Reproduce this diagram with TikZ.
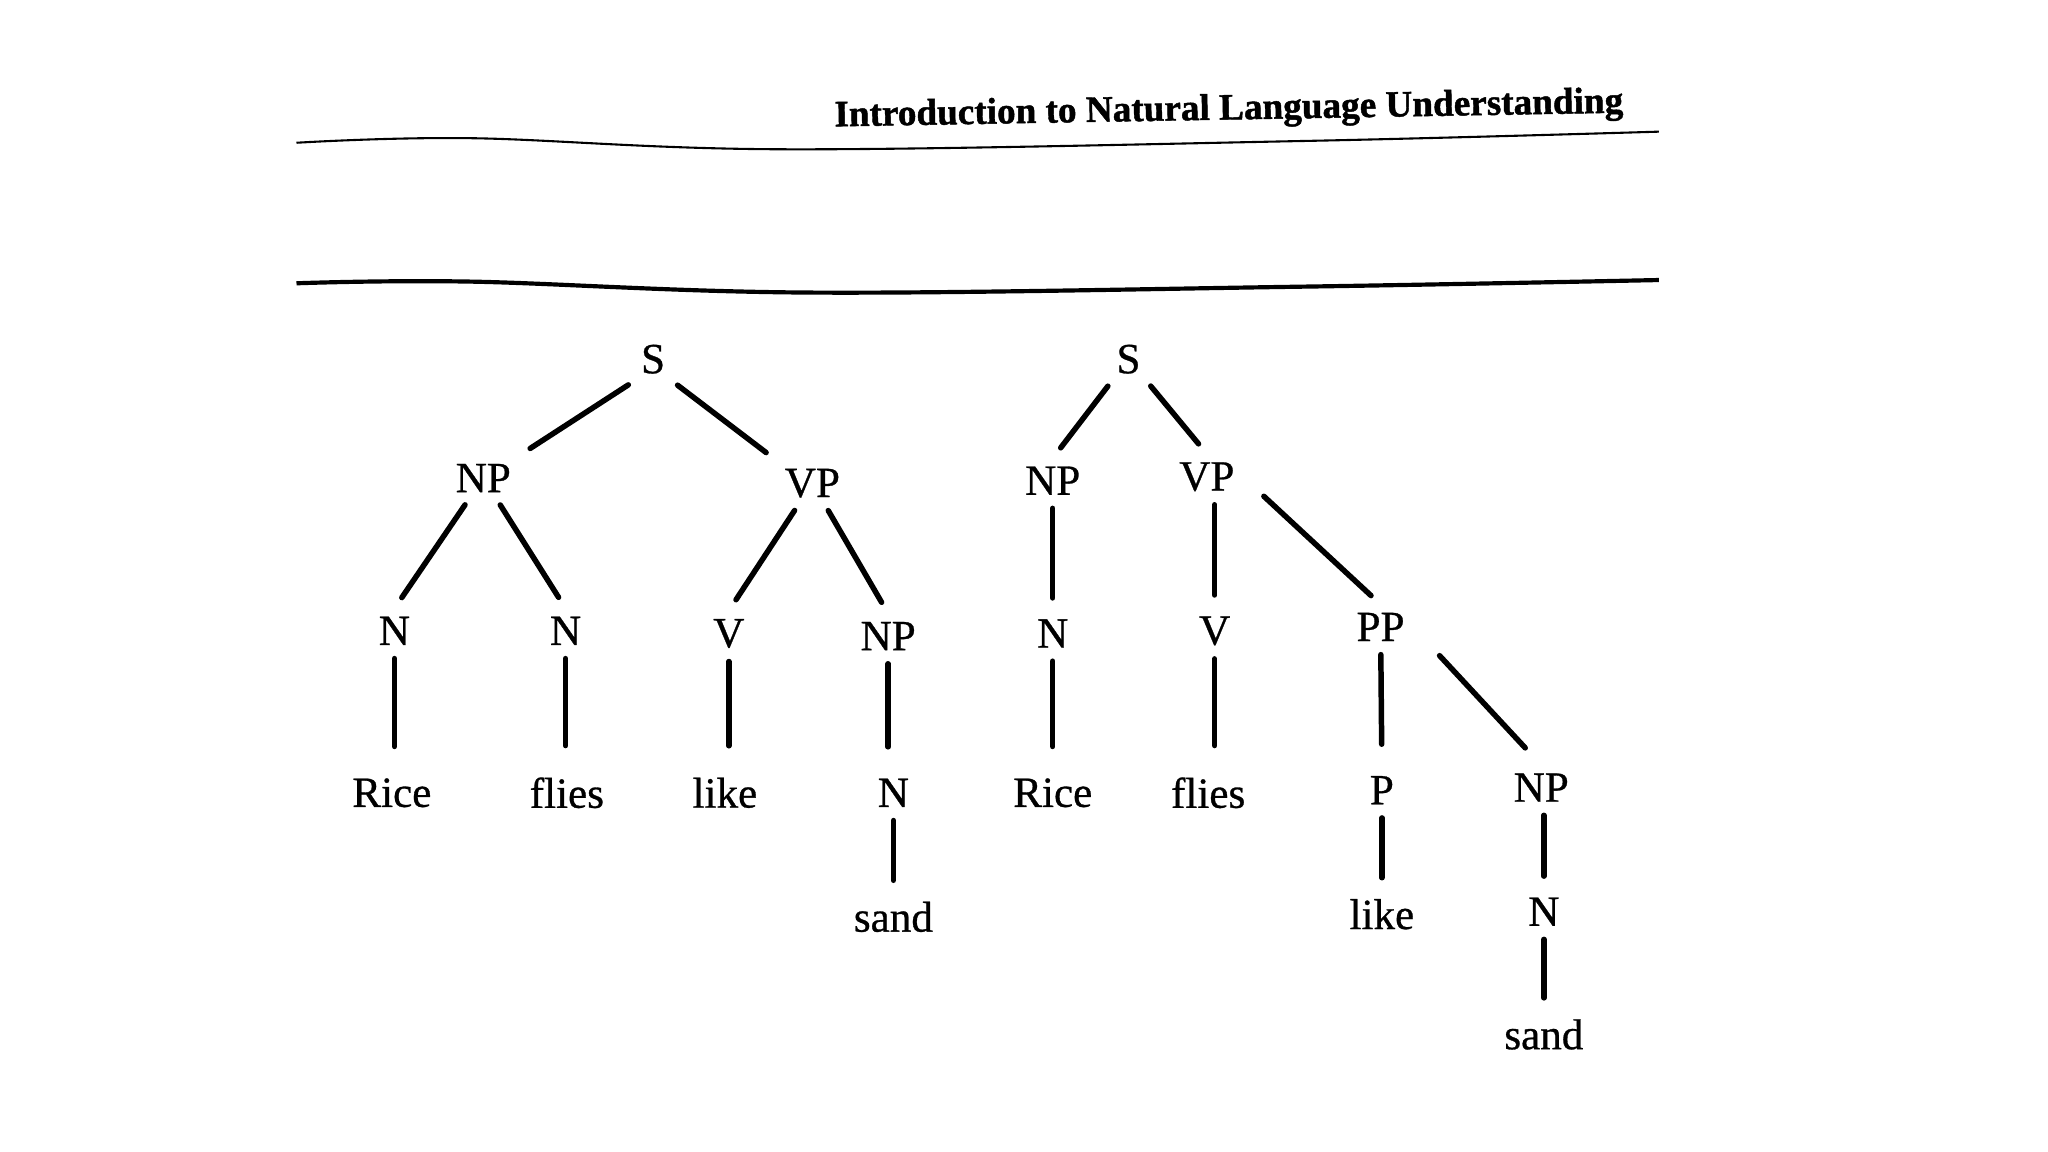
\documentclass[tikz,border=0pt]{standalone}
\usepackage{fontspec}
\setmainfont{Liberation Serif}
\newfontfamily\inkfont[FakeBold=0.7]{Liberation Serif}
\newfontfamily\headfont[FakeBold=1.2]{Liberation Serif Bold}
\begin{document}
\begin{tikzpicture}[x=0.5pt,y=-0.5pt,
	lab/.style={inner sep=3pt,font=\inkfont\fontsize{16.5}{20}\selectfont},
	branch/.style={line width=2.1pt,line cap=round,shorten <=2pt,shorten >=5pt},
	longbranch/.style={branch,shorten >=9pt}]
		\useasboundingbox (0,0) rectangle (1568,882);
		% page head
		\node[anchor=base,rotate=1,inner sep=0pt] (head) at (941,91.5) {\resizebox{302pt}{!}{\headfont Introduction to Natural Language Understanding}};
		\draw[line width=0.8pt] plot[smooth,tension=0.6] coordinates {(227,109.3) (360,105.8) (600,114.3) (995,108) (1270,100.8)};
		\draw[line width=1.6pt] plot[smooth,tension=0.6] coordinates {(227,216.9) (360,215.6) (620,224) (995,219.5) (1270,214.4)};
		% first tree
		\node[lab] (s1) at (500,275) {S};
		\node[lab] (np1) at (370,366) {NP};
		\node[lab] (vp1) at (622,370) {VP};
		\node[lab] (n1) at (302,483) {N};
		\node[lab] (n2) at (433,483) {N};
		\node[lab] (v1) at (558,485) {V};
		\node[lab] (np2) at (680,487) {NP};
		\node[lab] (rice1) at (300,607) {Rice};
		\node[lab] (flies1) at (434,607) {flies};
		\node[lab] (like1) at (555,607) {like};
		\node[lab] (n3) at (684,607) {N};
		\node[lab] (sand1) at (684,702) {sand};
		\draw[branch] (s1.south west) -- (np1.north east);
		\draw[branch] (s1.south east) -- (vp1.north west);
		\draw[branch] (np1) -- (n1.north);
		\draw[branch] (np1) -- (n2.north);
		\draw[branch] (vp1) -- (v1.north);
		\draw[branch] (vp1) -- (np2.north);
		\draw[longbranch] (n1) -- (n1 |- rice1.north);
		\draw[longbranch] (n2) -- (n2 |- flies1.north);
		\draw[longbranch] (v1) -- (v1 |- like1.north);
		\draw[longbranch] (np2) -- (np2 |- n3.north);
		\draw[branch] (n3) -- (sand1.north);
		% second tree
		\node[lab] (s2) at (864,275) {S};
		\node[lab] (np3) at (806,368) {NP};
		\node[lab] (vp2) at (924,365) {VP};
		\node[lab] (n4) at (806,485) {N};
		\node[lab] (v2) at (930,483) {V};
		\node[lab] (pp) at (1057,480) {PP};
		\node[lab] (rice2) at (806,607) {Rice};
		\node[lab] (flies2) at (925,607) {flies};
		\node[lab] (p) at (1058,605) {P};
		\node[lab] (np4) at (1180,603) {NP};
		\node[lab] (like2) at (1058,700) {like};
		\node[lab] (n5) at (1182,698) {N};
		\node[lab] (sand2) at (1182,792) {sand};
		\draw[branch] (s2) -- (np3.north);
		\draw[branch] (s2) -- (vp2.north);
		\draw[branch] (np3) -- (np3 |- n4.north);
		\draw[branch] (vp2.south -| v2) -- (v2.north);
		\draw[branch,shorten <=11pt] (vp2.east) -- (pp.north);
		\draw[longbranch] (n4) -- (rice2.north);
		\draw[longbranch] (v2) -- (v2 |- flies2.north);
		\draw[longbranch] (pp) -- (p.north);
		\draw[branch,shorten <=15pt,shorten >=9pt] (pp.east) -- (np4.north);
		\draw[branch] (p) -- (like2.north);
		\draw[branch] (n5 |- np4.south) -- (n5.north);
		\draw[branch] (n5) -- (sand2.north);
		\end{tikzpicture}
\end{document}
